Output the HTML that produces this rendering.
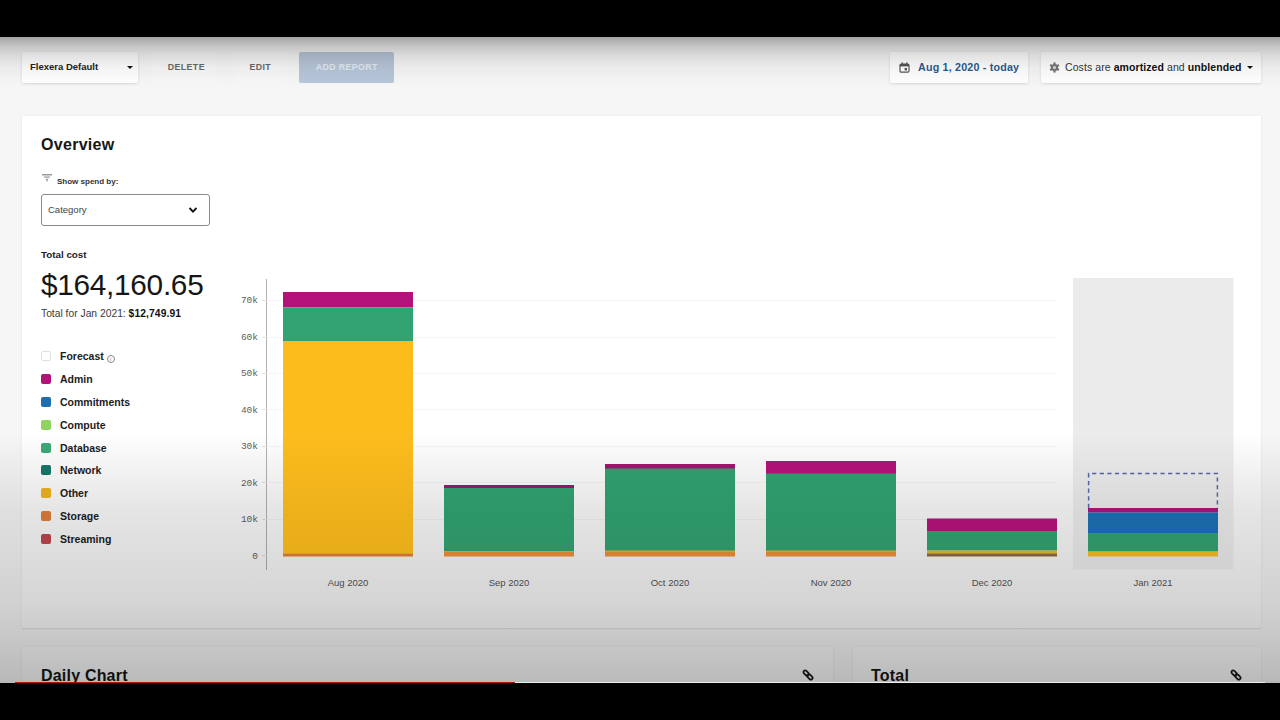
<!DOCTYPE html>
<html lang="en">
<head>
<meta charset="utf-8">
<title>Flexera Default - Overview</title>
<style>
*{box-sizing:border-box;margin:0;padding:0}
html,body{width:1280px;height:720px;overflow:hidden;background:#000;font-family:"Liberation Sans",sans-serif;color:#1a1a1a}
#frame{position:absolute;left:0;top:37px;width:1280px;height:646px;background:linear-gradient(to bottom,#f6f6f6 0,#f6f6f6 400px,#fbfbfb 560px,#fcfcfc 646px);overflow:hidden}
.abs{position:absolute}
.btn{position:absolute;top:15px;height:31px;border-radius:2px;font-size:10px;line-height:30px;white-space:nowrap}
.white{background:#fff;box-shadow:0 1px 3px rgba(0,0,0,.12)}
.card{position:absolute;background:#fff;box-shadow:0 0 3px rgba(0,0,0,.05),0 1px 1px rgba(0,0,0,.07)}
.h{font-weight:bold;font-size:16px;letter-spacing:.2px;color:#161616}
.leg{position:absolute;left:41px;height:12px;font-size:10.5px;font-weight:bold;line-height:12px;color:#1c1c1c;white-space:nowrap}
.leg i{position:absolute;left:0;top:1px;width:10px;height:10px;border-radius:2px}
.leg span{position:absolute;left:19px;top:0}
#ovl-top{position:absolute;left:0;top:0;width:1280px;height:60px;background:linear-gradient(to bottom,rgba(0,0,0,.335) 0,rgba(0,0,0,.205) 9px,rgba(0,0,0,.11) 19px,rgba(0,0,0,.045) 31px,rgba(0,0,0,0) 50px);pointer-events:none}
#ovl-bot{position:absolute;left:0;top:395px;width:1280px;height:251px;background:linear-gradient(to bottom,rgba(0,0,0,0) 0,rgba(0,0,0,.05) 38px,rgba(0,0,0,.10) 78px,rgba(0,0,0,.135) 123px,rgba(0,0,0,.165) 168px,rgba(0,0,0,.21) 208px,rgba(0,0,0,.245) 230px,rgba(0,0,0,.27) 251px);pointer-events:none}
</style>
</head>
<body>
<div id="frame">

  <!-- toolbar -->
  <div class="btn white" style="left:22px;width:116px;padding-left:8px;font-weight:bold;color:#222;font-size:9.5px">Flexera Default
    <span class="abs" style="left:105px;top:14px;width:0;height:0;border-left:3px solid transparent;border-right:3px solid transparent;border-top:3.5px solid #111"></span>
  </div>
  <div class="btn" style="left:152px;width:65px;background:#f8f8f8;font-weight:bold;font-size:8.8px;letter-spacing:.4px;color:#686868"><span id="t_del" class="abs" style="left:15.800px;top:0">DELETE</span></div>
  <div class="btn" style="left:233px;width:54px;background:#f8f8f8;font-weight:bold;font-size:8.8px;letter-spacing:.4px;color:#686868"><span id="t_edit" class="abs" style="left:16.400px;top:0">EDIT</span></div>
  <div class="btn" style="left:299px;width:95px;background:#b7c6d9;font-weight:bold;font-size:8.8px;letter-spacing:.4px;color:#e3ebf4"><span id="t_add" class="abs" style="left:16.700px;top:0">ADD REPORT</span></div>

  <div class="btn white" style="left:890px;width:138px">
    <svg class="abs" style="left:9px;top:10px" width="11" height="11" viewBox="0 0 11 11"><rect x="1" y="2" width="9" height="8.2" rx="1.2" fill="none" stroke="#555" stroke-width="1.2"/><rect x="1" y="2" width="9" height="2.4" fill="#555"/><rect x="2.6" y=".4" width="1.3" height="2.4" fill="#555"/><rect x="7.1" y=".4" width="1.3" height="2.4" fill="#555"/><rect x="5.6" y="6" width="2.4" height="2.4" fill="#555"/></svg>
    <span class="abs" style="left:28px;top:0;font-weight:bold;font-size:10.7px;letter-spacing:.2px;color:#2b5a8e">Aug 1, 2020 - today</span>
  </div>
  <div class="btn white" style="left:1041px;width:220px">
    <svg class="abs" style="left:8px;top:10px" width="11" height="11" viewBox="0 0 11 11"><circle cx="5.5" cy="5.5" r="3.6" fill="#777"/><g stroke="#777" stroke-width="2.2"><line x1="5.5" y1=".4" x2="5.5" y2="10.6"/><line x1="1.1" y1="2.95" x2="9.9" y2="8.05"/><line x1="1.1" y1="8.05" x2="9.9" y2="2.95"/></g><circle cx="5.5" cy="5.5" r="1.5" fill="#ddd"/></svg>
    <span class="abs" style="left:24px;top:0;font-size:10.5px;letter-spacing:.08px;color:#333">Costs are <b style="color:#111">amortized</b> and <b style="color:#111">unblended</b></span>
    <span class="abs" style="left:206px;top:14px;width:0;height:0;border-left:3px solid transparent;border-right:3px solid transparent;border-top:3.5px solid #111"></span>
  </div>

  <!-- overview card -->
  <div class="card" style="left:22px;top:79px;width:1239px;height:512px">
    <div class="abs h" style="left:19px;top:18.500px;line-height:20px;letter-spacing:.3px">Overview</div>
    <svg class="abs" style="left:20px;top:58px" width="10" height="8" viewBox="0 0 10 8"><path d="M0 0h10v1.400H0zM1.600 2.400h6.800L7.400 3.800H2.600zM3.400 4.800h3.200L5.600 6.200v1.300H4.400V6.200z" fill="#9b9b9b"/></svg>
    <div class="abs" style="left:35px;top:61px;font-size:8px;line-height:10px;color:#333;font-weight:bold">Show spend by:</div>
    <div class="abs" style="left:19px;top:78px;width:169px;height:32px;border:1px solid #8a8a8a;border-radius:3px;background:#fff">
      <span class="abs" style="left:6px;top:0;line-height:30px;font-size:9.5px;color:#444">Category</span>
      <svg class="abs" style="left:146px;top:11px" width="10" height="8" viewBox="0 0 10 8"><path d="M1.5 2l3.5 3.6L8.500 2" fill="none" stroke="#111" stroke-width="1.8"/></svg>
    </div>
    <div class="abs" style="left:19px;top:133.5px;font-size:9.8px;line-height:10px;font-weight:bold;color:#222">Total cost</div>
    <div class="abs" style="left:19px;top:151px;font-size:29.8px;line-height:36px;color:#161616;letter-spacing:-.3px">$164,160.65</div>
    <div class="abs" style="left:19px;top:193px;font-size:10.3px;line-height:10px;color:#3a3a3a;white-space:nowrap">Total for Jan 2021: <b style="color:#111;letter-spacing:.1px">$12,749.91</b></div>
  </div>

  <!-- legend -->
  <div class="leg" style="top:313px"><i style="background:#fff;border:1px solid #e0e0e0"></i><span>Forecast <em style="display:inline-block;width:8px;height:8px;border:1px solid #8a8a8a;border-radius:50%;vertical-align:-1px;font-style:normal;font-size:5.500px;line-height:6px;text-align:center;color:#777;font-weight:normal">i</em></span></div>
  <div class="leg" style="top:336px"><i style="background:#b3127a"></i><span>Admin</span></div>
  <div class="leg" style="top:359px"><i style="background:#1f6eb0"></i><span>Commitments</span></div>
  <div class="leg" style="top:382px"><i style="background:#8fd45f"></i><span>Compute</span></div>
  <div class="leg" style="top:405px"><i style="background:#3ba877"></i><span>Database</span></div>
  <div class="leg" style="top:427px"><i style="background:#15796a"></i><span>Network</span></div>
  <div class="leg" style="top:450px"><i style="background:#f2b521"></i><span>Other</span></div>
  <div class="leg" style="top:473px"><i style="background:#e37f3c"></i><span>Storage</span></div>
  <div class="leg" style="top:496px"><i style="background:#c6474f"></i><span>Streaming</span></div>

  <!-- chart -->
  <svg class="abs" style="left:0;top:0" width="1280" height="646" viewBox="0 37 1280 646" font-family="Liberation Sans, sans-serif">
    <defs><linearGradient id="hl" x1="0" y1="0" x2="0" y2="1"><stop offset="0" stop-color="#ebebeb"/><stop offset=".5" stop-color="#ebebeb"/><stop offset="1" stop-color="#f5f5f5"/></linearGradient></defs><rect x="1073" y="278" width="160.500" height="291.500" fill="url(#hl)"/>
    <g stroke="#f5f5f5" stroke-width="1">
      <line x1="267" y1="300.500" x2="1057" y2="300.500"/><line x1="267" y1="337.500" x2="1057" y2="337.500"/><line x1="267" y1="373.500" x2="1057" y2="373.500"/><line x1="267" y1="409.500" x2="1057" y2="409.500"/><line x1="267" y1="446.500" x2="1057" y2="446.500"/><line x1="267" y1="482.500" x2="1057" y2="482.500"/><line x1="267" y1="519.500" x2="1057" y2="519.500"/>
    </g>
    <line x1="266.500" y1="279" x2="266.500" y2="570" stroke="#b2b2b2"/>
    <g stroke="#e2e2e2"><line x1="262" y1="300.500" x2="267" y2="300.500"/><line x1="262" y1="337.500" x2="267" y2="337.500"/><line x1="262" y1="373.500" x2="267" y2="373.500"/><line x1="262" y1="409.500" x2="267" y2="409.500"/><line x1="262" y1="446.500" x2="267" y2="446.500"/><line x1="262" y1="482.500" x2="267" y2="482.500"/><line x1="262" y1="519.500" x2="267" y2="519.500"/><line x1="262" y1="555.500" x2="267" y2="555.500"/></g>
    <g font-family="Liberation Mono, monospace" font-size="9.5" fill="#5e5e5e" text-anchor="end">
      <text x="258" y="303">70k</text><text x="258" y="339.500">60k</text><text x="258" y="376">50k</text><text x="258" y="412.500">40k</text><text x="258" y="449">30k</text><text x="258" y="485.500">20k</text><text x="258" y="522">10k</text><text x="258" y="558.500">0</text>
    </g>
    <g font-size="9.5" fill="#555" text-anchor="middle">
      <text x="348" y="586">Aug 2020</text><text x="509" y="586">Sep 2020</text><text x="670" y="586">Oct 2020</text><text x="831" y="586">Nov 2020</text><text x="992" y="586">Dec 2020</text><text x="1153" y="586">Jan 2021</text>
    </g>
  </svg>

  <!-- lower cards -->
  <div class="card" style="left:22px;top:610px;width:811px;height:60px">
    <div class="abs h" style="left:19px;top:19px;line-height:20px">Daily Chart</div>
    <svg class="abs" style="left:780px;top:22px" width="12" height="12" viewBox="0 0 12 12"><g transform="rotate(45 6 6)" fill="none" stroke="#1c1c1c" stroke-width="1.800"><rect x=".3" y="4.300" width="6.200" height="3.400" rx="1.700"/><rect x="5.500" y="4.300" width="6.200" height="3.400" rx="1.700"/></g></svg>
  </div>
  <div class="card" style="left:853px;top:610px;width:408px;height:60px">
    <div class="abs h" style="left:18px;top:19px;line-height:20px">Total</div>
    <svg class="abs" style="left:377px;top:22px" width="12" height="12" viewBox="0 0 12 12"><g transform="rotate(45 6 6)" fill="none" stroke="#1c1c1c" stroke-width="1.800"><rect x=".3" y="4.300" width="6.200" height="3.400" rx="1.700"/><rect x="5.500" y="4.300" width="6.200" height="3.400" rx="1.700"/></g></svg>
  </div>

  <div id="ovl-top"></div>
  <div id="ovl-bot"></div>
  <!-- bars (above video overlay, own lighter shading) -->
  <svg class="abs" style="left:0;top:0" width="1280" height="646" viewBox="0 37 1280 646">
    <defs><linearGradient id="sh" gradientUnits="userSpaceOnUse" x1="0" y1="432" x2="0" y2="560"><stop offset="0" stop-color="#000" stop-opacity="0"/><stop offset=".3" stop-color="#000" stop-opacity=".03"/><stop offset=".62" stop-color="#000" stop-opacity=".06"/><stop offset="1" stop-color="#000" stop-opacity=".085"/></linearGradient></defs>
    <!-- Aug -->
    <rect x="283" y="292" width="130" height="15.5" fill="#b3127a"/><rect x="283" y="307.500" width="130" height="34" fill="#31a272"/><rect x="283" y="341.500" width="130" height="212" fill="#fcbc1c"/><rect x="283" y="553.500" width="130" height="3" fill="#e07f2c"/>
    <!-- Sep -->
    <rect x="444" y="485" width="130" height="3.500" fill="#9c1470"/><rect x="444" y="488" width="130" height="63" fill="#30a06f"/><rect x="444" y="551" width="130" height="1.500" fill="#e9a838"/><rect x="444" y="552" width="130" height="4.500" fill="#ea8c38"/>
    <!-- Oct -->
    <rect x="605" y="464" width="130" height="5" fill="#a3126f"/><rect x="605" y="468.500" width="130" height="82.500" fill="#30a06f"/><rect x="605" y="550.500" width="130" height="2" fill="#e9a838"/><rect x="605" y="552" width="130" height="4.500" fill="#ea8c38"/>
    <!-- Nov -->
    <rect x="766" y="461" width="130" height="13" fill="#b3127a"/><rect x="766" y="473.500" width="130" height="77.500" fill="#30a06f"/><rect x="766" y="550.500" width="130" height="2" fill="#e9a838"/><rect x="766" y="552" width="130" height="4.500" fill="#ea8c38"/>
    <!-- Dec -->
    <rect x="927" y="518.500" width="130" height="13" fill="#b3127a"/><rect x="927" y="531" width="130" height="19.500" fill="#30a06f"/><rect x="927" y="550.500" width="130" height="3" fill="#e6b030"/><rect x="927" y="553.500" width="130" height="3" fill="#8a6a3a"/>
    <!-- Jan -->
    <path d="M1088.600 508V473.500H1217.400V508" fill="none" stroke="#50629f" stroke-width="1.500" stroke-dasharray="4.200 3.400"/>
    <rect x="1088" y="508" width="130" height="4.500" fill="#a8147a"/><rect x="1088" y="512.500" width="130" height="20.500" fill="#1c6eb2"/><rect x="1088" y="533" width="130" height="18.500" fill="#30a06f"/><rect x="1088" y="551.500" width="130" height="5" fill="#f3b824"/>
    <g fill="url(#sh)"><rect x="283" y="432" width="130" height="124.500"/><rect x="444" y="485" width="130" height="71.500"/><rect x="605" y="464" width="130" height="92.500"/><rect x="766" y="461" width="130" height="95.500"/><rect x="927" y="518.500" width="130" height="38"/><rect x="1088" y="508" width="130" height="48.500"/></g>
  </svg>
  <!-- progress line -->
  <div class="abs" style="left:15px;top:644.700px;width:500px;height:1.300px;background:#a81714"></div>
  <div class="abs" style="left:515px;top:644.700px;width:750px;height:1.300px;background:#ececec"></div>
</div>
</body>
</html>
